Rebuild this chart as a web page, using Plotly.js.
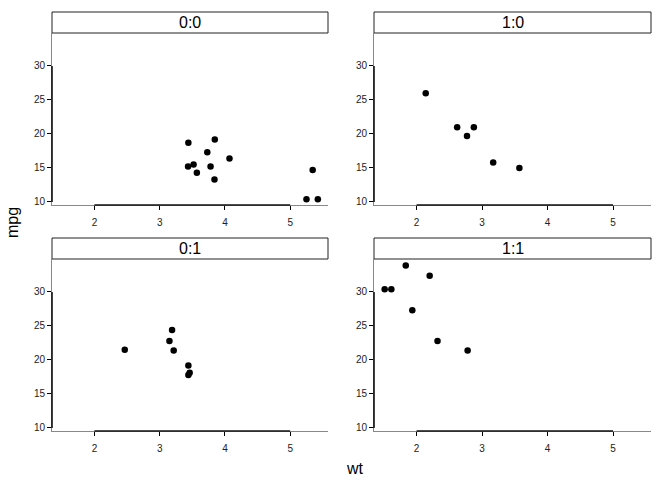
<!DOCTYPE html>
<html><head><meta charset="utf-8">
<script src="https://cdn.plot.ly/plotly-3.0.1.min.js"></script>
<style>html,body{margin:0;padding:0;background:#fff}#c{width:672px;height:480px}</style>
</head><body><div id="c"></div>
<script>
// mtcars: wt, mpg, am, vs
const wt  = [2.620,2.875,2.320,3.215,3.440,3.460,3.570,3.190,3.150,3.440,3.440,4.070,3.730,3.780,5.250,5.424,5.345,2.200,1.615,1.835,2.465,3.520,3.435,3.840,3.845,1.935,2.140,1.513,3.170,2.770,3.570,2.780];
const mpg = [21.0,21.0,22.8,21.4,18.7,18.1,14.3,24.4,22.8,19.2,17.8,16.4,17.3,15.2,10.4,10.4,14.7,32.4,30.4,33.9,21.5,15.5,15.2,13.3,19.2,27.3,26.0,30.4,15.8,19.7,15.0,21.4];
const am  = [1,1,1,0,0,0,0,0,0,0,0,0,0,0,0,0,0,1,1,1,0,0,0,0,0,1,1,1,1,1,1,1];
const vs  = [0,0,1,1,0,1,0,1,1,1,1,0,0,0,0,0,0,1,1,1,1,0,0,0,0,1,0,1,0,0,0,1];
const panels = [
  {label:'0:0', am:0, vs:0},
  {label:'1:0', am:1, vs:0},
  {label:'0:1', am:0, vs:1},
  {label:'1:1', am:1, vs:1}
];
const xTicks = [2,3,4,5];
const yTicks = [10,15,20,25,30];

const W=672,H=480;
const xDom = [[52/W,328/W],[374/W,651/W]];
const yDom = [[1-205/H,1-33/H],[1-431/H,1-259/H]];
const stripY = [[12,33],[238,259]];

const traces=[], shapes=[], annotations=[];
const layout = {width:W,height:H,margin:{l:0,r:0,t:0,b:0},showlegend:false,
  paper_bgcolor:'#fff',plot_bgcolor:'#fff',font:{family:'Liberation Sans, Arial, sans-serif',color:'#000'}};

panels.forEach((p,i)=>{
  const col=i%2,row=Math.floor(i/2);
  const n=i+1, xa='x'+(n===1?'':n), ya='y'+(n===1?'':n);
  const xs=[],ys=[];
  for(let k=0;k<wt.length;k++){ if(am[k]===p.am && vs[k]===p.vs){xs.push(wt[k]);ys.push(mpg[k]);} }
  traces.push({type:'scatter',mode:'markers',x:xs,y:ys,xaxis:xa,yaxis:ya,
    marker:{color:'#000',size:6.5},hoverinfo:'skip'});
  const axBase={showgrid:false,zeroline:false,showline:true,linecolor:'#888',linewidth:1,
    ticks:'outside',ticklen:4,tickcolor:'#000',tickwidth:1,tickfont:{size:10,color:'#222'},mirror:false};
  layout['xaxis'+(n===1?'':n)]=Object.assign({},axBase,{domain:xDom[col],range:[1.35,5.58],
    tickvals:xTicks,ticktext:xTicks.map(String),anchor:ya,ticklabelstandoff:4});
  layout['yaxis'+(n===1?'':n)]=Object.assign({},axBase,{domain:yDom[row],range:[9.55,34.85],
    tickvals:yTicks,ticktext:yTicks.map(String),anchor:xa});
  // darker axis segment over tick range
  shapes.push({type:'line',xref:xa,yref:ya+' domain',x0:xTicks[0],x1:xTicks[xTicks.length-1],y0:0,y1:0,
    line:{color:'#111',width:1.6}});
  shapes.push({type:'line',xref:xa+' domain',yref:ya,x0:0,x1:0,y0:yTicks[0],y1:yTicks[yTicks.length-1],
    line:{color:'#111',width:1.6}});
  // strip
  shapes.push({type:'rect',xref:'paper',yref:'paper',x0:xDom[col][0],x1:xDom[col][1],
    y0:1-stripY[row][1]/H,y1:1-stripY[row][0]/H,line:{color:'#222',width:1},fillcolor:'#fff'});
  annotations.push({xref:'paper',yref:'paper',x:(xDom[col][0]+xDom[col][1])/2,
    y:1-(stripY[row][0]+stripY[row][1])/2/H,text:p.label,showarrow:false,
    xanchor:'center',yanchor:'middle',font:{size:16,color:'#000'}});
});
annotations.push({xref:'paper',yref:'paper',x:355/W,y:1-468/H,text:'wt',showarrow:false,
  xanchor:'center',yanchor:'middle',font:{size:16}});
annotations.push({xref:'paper',yref:'paper',x:12/W,y:1-223/H,text:'mpg',showarrow:false,textangle:-90,
  xanchor:'center',yanchor:'middle',font:{size:16}});
layout.shapes=shapes;layout.annotations=annotations;
Plotly.newPlot('c',traces,layout,{staticPlot:true,displayModeBar:false});
</script></body></html>
